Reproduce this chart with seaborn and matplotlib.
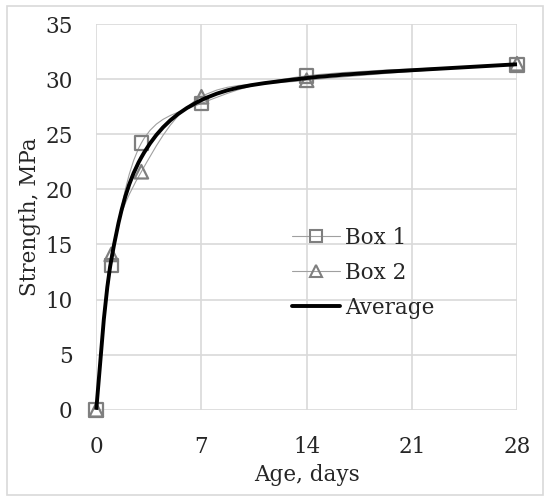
import matplotlib.pyplot as plt
import seaborn as sns
import numpy as np
from matplotlib.path import Path
from matplotlib.patches import PathPatch, Rectangle
from matplotlib.lines import Line2D

# data
age = [0, 1, 3, 7, 14, 28]
box1 = [0, 13.1, 24.2, 27.8, 30.3, 31.3]
box2 = [0, 14.1, 21.6, 28.4, 29.9, 31.4]
average = [0, 13.6, 22.9, 28.1, 30.1, 31.35]


def smooth_path(x, y):
    # Excel-like smoothed line: cubic bezier through the points
    pts = np.column_stack([x, y]).astype(float)
    ext = np.vstack([pts[0], pts, pts[-1]])
    verts = [pts[0]]
    codes = [Path.MOVETO]
    for i in range(1, len(ext) - 2):
        p0, p1, p2, p3 = ext[i - 1], ext[i], ext[i + 1], ext[i + 2]
        verts += [p1 + (p2 - p0) / 6, p2 - (p3 - p1) / 6, p2]
        codes += [Path.CURVE4] * 3
    return Path(verts, codes)


sns.set_style('white')
plt.rcParams['font.family'] = ['DejaVu Serif']
fs = 15.5

fig, ax = plt.subplots(figsize=(5.5, 5.01), dpi=100)
fig.subplots_adjust(left=0.175, right=0.94, bottom=0.182, top=0.952)

grey = '#7f7f7f'
ax.add_patch(PathPatch(smooth_path(age, box1), fill=False, edgecolor='#a0a0a0', lw=0.8, zorder=3))
ax.add_patch(PathPatch(smooth_path(age, box2), fill=False, edgecolor='#a0a0a0', lw=0.8, zorder=3))
sns.scatterplot(x=age, y=box1, marker='s', s=95, facecolor='none', edgecolor=grey, linewidth=1.6,
                ax=ax, zorder=4, clip_on=False)
sns.scatterplot(x=age, y=box2, marker='^', s=95, facecolor='none', edgecolor=grey, linewidth=1.6,
                ax=ax, zorder=4, clip_on=False)
ax.add_patch(PathPatch(smooth_path(age, average), fill=False, edgecolor='black', lw=2.8, zorder=5,
                       clip_on=False))

ax.set_xlim(0, 28)
ax.set_ylim(0, 35)
ax.set_xticks([0, 7, 14, 21, 28])
ax.set_yticks(range(0, 36, 5))
ax.grid(True, color='#d9d9d9', lw=1.2)
for s in ax.spines.values():
    s.set_visible(False)
ax.tick_params(labelsize=fs, length=0)
ax.tick_params(axis='x', pad=19)
ax.tick_params(axis='y', pad=17)
ax.set_xlabel('Age, days', fontsize=fs, labelpad=4)
ax.set_ylabel('Strength, MPa', fontsize=fs, labelpad=3)

handles = [
    Line2D([], [], color='#a0a0a0', lw=0.8, marker='s', markersize=8, markerfacecolor='none',
           markeredgecolor=grey, markeredgewidth=1.5),
    Line2D([], [], color='#a0a0a0', lw=0.8, marker='^', markersize=8, markerfacecolor='none',
           markeredgecolor=grey, markeredgewidth=1.5),
    Line2D([], [], color='black', lw=2.8),
]
ax.legend(handles, ['Box 1', 'Box 2', 'Average'], loc='center left', bbox_to_anchor=(0.42, 0.355),
          frameon=False, fontsize=fs, handlelength=2.2, handletextpad=0.25, labelspacing=0.6)

fig.patches.append(Rectangle((0.012, 0.012), 0.976, 0.976, transform=fig.transFigure,
                             fill=False, edgecolor='#d9d9d9', lw=1.2))

fig.savefig('out.png', dpi=100)
